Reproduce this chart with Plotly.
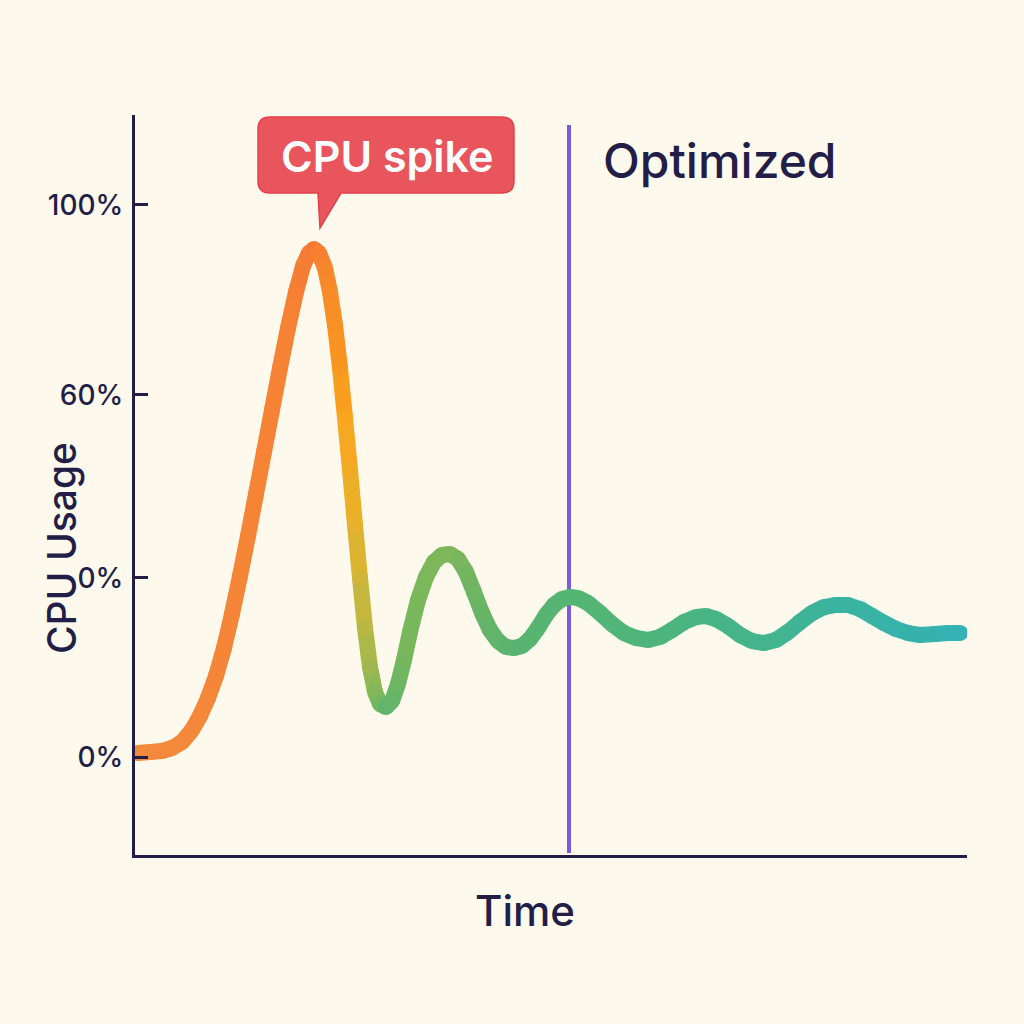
import plotly.graph_objects as go

# ---------------- data ----------------
time = [0.375, 1.875, 3.375, 4.625, 5.875, 7.125, 8.125, 9.125, 10.125, 11.125,
        12.125, 13.125, 14.125, 15.125, 16.125, 17.125, 18.125, 19.125, 20.125, 21.0,
        21.75, 22.375, 23.0, 23.75, 24.375, 25.0, 25.625, 26.25, 26.875, 27.5,
        28.125, 28.75, 29.375, 30.0, 30.625, 31.375, 32.125, 32.875, 33.625, 34.375,
        35.375, 36.375, 37.375, 38.375, 39.375, 40.375, 41.375, 42.375, 43.375, 44.375,
        45.375, 46.375, 47.375, 48.375, 49.375, 50.375, 51.375, 52.375, 53.375, 54.375,
        55.375, 56.625, 58.125, 59.625, 61.125, 62.625, 64.125, 65.625, 67.125, 68.625,
        70.125, 71.375, 72.625, 74.125, 75.625, 77.125, 78.625, 80.125, 81.625, 83.125,
        84.625, 86.125, 87.625, 89.125, 90.625, 92.125, 93.625, 95.125, 96.625, 98.125,
        100.0, 101.625, 103.125]
cpu = [0.72, 0.91, 1.09, 1.63, 2.72, 4.89, 7.43, 10.69, 14.67, 19.75,
       25.91, 32.79, 40.04, 47.64, 55.25, 62.86, 70.47, 77.72, 84.24, 88.95,
       91.30, 92.03, 91.30, 88.59, 84.24, 78.26, 70.47, 61.41, 51.99, 42.03,
       32.43, 23.37, 16.30, 11.78, 9.60, 9.06, 10.14, 13.22, 17.57, 22.64,
       28.44, 32.61, 35.33, 36.59, 36.78, 35.87, 33.51, 29.89, 26.09, 23.01,
       21.01, 19.93, 19.75, 20.11, 21.38, 23.37, 25.72, 27.54, 28.62, 28.99,
       28.80, 27.90, 26.09, 24.09, 22.46, 21.56, 21.20, 21.74, 23.01, 24.46,
       25.36, 25.54, 25.00, 23.73, 22.10, 21.01, 20.65, 21.20, 22.64, 24.46,
       26.09, 27.17, 27.54, 27.54, 26.81, 25.54, 24.28, 23.19, 22.46, 22.10,
       22.28, 22.46, 22.46]

ytick_vals = [0, 32.43, 65.58, 100]
ytick_text = ["0%", "0%", "60%", "100%"]
optimized_time = 54.25
spike_label = "CPU spike"
optimized_label = "Optimized"

# gradient stops along time (time, rgb)
grad_t = [0, 19, 22.4, 25.6, 26.25, 27.5, 28.75, 30, 31.4, 34, 39.4, 44, 48, 55, 64, 78, 88, 103.2]
grad_c = [(243, 139, 62), (246, 130, 52), (245, 122, 52), (248, 150, 32), (250, 165, 30),
          (232, 178, 44), (185, 184, 68), (130, 184, 90), (95, 180, 108), (120, 183, 92),
          (128, 183, 90), (100, 180, 105), (88, 180, 112), (85, 181, 115), (78, 181, 122),
          (68, 180, 140), (58, 179, 160), (52, 178, 180)]


def color_at(t):
    if t <= grad_t[0]:
        c = grad_c[0]
    elif t >= grad_t[-1]:
        c = grad_c[-1]
    else:
        for k in range(len(grad_t) - 1):
            if grad_t[k] <= t <= grad_t[k + 1]:
                f = (t - grad_t[k]) / (grad_t[k + 1] - grad_t[k])
                c = tuple(grad_c[k][j] + f * (grad_c[k + 1][j] - grad_c[k][j]) for j in range(3))
                break
    return "rgb(%d,%d,%d)" % tuple(int(round(v)) for v in c)


# ---------------- layout constants ----------------
W, H = 1024, 1024
ML, MR, MT, MB = 135, 57, 115, 169
PW, PH = W - ML - MR, H - MT - MB
BG = "#FDF9ED"
INK = "#231E47"
FONT = "Inter, sans-serif"
LW = 16


def px(x):
    return (x - ML) / PW


def py(y):
    return (H - MB - y) / PH


fig = go.Figure()

# gradient line: one short segment per pair of points
for i in range(len(time) - 1):
    fig.add_trace(go.Scatter(
        x=[time[i], time[i + 1]], y=[cpu[i], cpu[i + 1]],
        mode="lines",
        line=dict(color=color_at((time[i] + time[i + 1]) / 2), width=LW),
        hoverinfo="skip", showlegend=False,
    ))
# round joints
fig.add_trace(go.Scatter(
    x=time, y=cpu, mode="markers",
    marker=dict(size=LW, color=[color_at(t) for t in time], line=dict(width=0)),
    hoverinfo="skip", showlegend=False,
))

shapes = []
# vertical "Optimized" line
shapes.append(dict(type="line", xref="x", yref="paper", x0=optimized_time, x1=optimized_time,
                   y0=py(125), y1=py(853), line=dict(color="#7B5AE3", width=4), layer="below"))

# callout bubble (rounded rect + tail)
bx0, bx1, by0, by1, r = 258, 514, 117, 193, 12
rx = r / PW
ry = r / PH
X0, X1, Y0, Y1 = px(bx0), px(bx1), py(by1), py(by0)
path = (f"M {X0+rx},{Y1} L {X1-rx},{Y1} Q {X1},{Y1} {X1},{Y1-ry} "
        f"L {X1},{Y0+ry} Q {X1},{Y0} {X1-rx},{Y0} "
        f"L {px(341)},{Y0} L {px(320)},{py(228)} L {px(318)},{Y0} "
        f"L {X0+rx},{Y0} Q {X0},{Y0} {X0},{Y0+ry} L {X0},{Y1-ry} Q {X0},{Y1} {X0+rx},{Y1} Z")
shapes.append(dict(type="path", xref="paper", yref="paper", path=path,
                   fillcolor="#E9555C", line=dict(color="#E2404A", width=1.5)))

annotations = [
    dict(text=spike_label, xref="paper", yref="paper", x=px(387), y=py(156),
         showarrow=False, font=dict(family=FONT, size=43, color="white", weight=600),
         xanchor="center", yanchor="middle"),
    dict(text=optimized_label, xref="paper", yref="paper", x=px(601), y=py(160),
         showarrow=False, font=dict(family=FONT, size=48, color=INK, weight=500),
         xanchor="left", yanchor="middle"),
    dict(text="Time", xref="paper", yref="paper", x=px(525), y=py(910),
         showarrow=False, font=dict(family=FONT, size=42, color=INK, weight=500),
         xanchor="center", yanchor="middle"),
    dict(text="CPU Usage", xref="paper", yref="paper", x=px(61), y=py(548),
         showarrow=False, textangle=-90, font=dict(family=FONT, size=39, color=INK, weight=500),
         xanchor="center", yanchor="middle"),
]

fig.update_layout(
    width=W, height=H,
    margin=dict(l=ML, r=MR, t=MT, b=MB),
    paper_bgcolor=BG, plot_bgcolor=BG,
    showlegend=False,
    shapes=shapes, annotations=annotations,
    xaxis=dict(range=[0, PW / 8], showgrid=False, zeroline=False, showticklabels=False,
               ticks="", showline=True, linecolor=INK, linewidth=3, fixedrange=True),
    yaxis=dict(range=[-17.75, 116.30], showgrid=False, zeroline=False,
               tickmode="array", tickvals=ytick_vals, ticktext=ytick_text,
               ticks="inside", ticklen=13, tickwidth=3, tickcolor=INK,
               tickfont=dict(family=FONT, size=28, color=INK, weight=500),
               ticklabelstandoff=3,
               showline=True, linecolor=INK, linewidth=3, fixedrange=True),
)

fig.write_html("out.html")
